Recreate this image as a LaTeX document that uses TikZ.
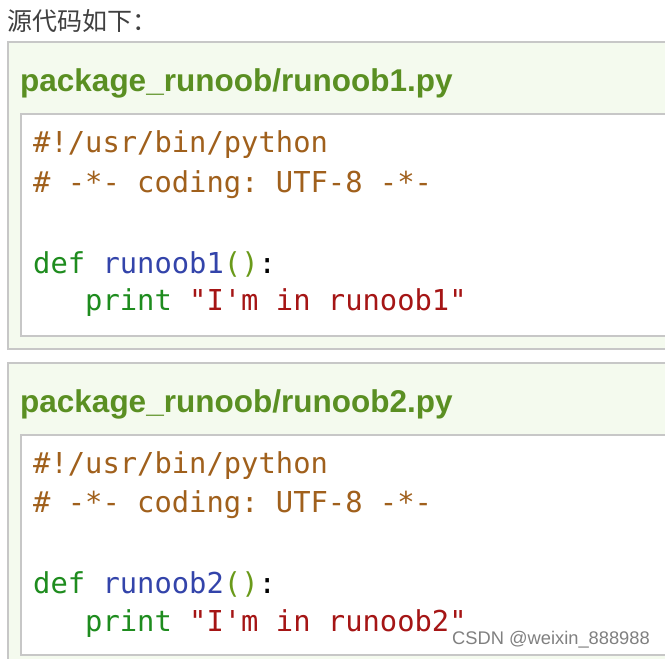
\documentclass[tikz,border=0pt]{standalone}
\usepackage{fontspec}
\setmainfont{Liberation Sans}
\setmonofont{DejaVu Sans Mono}
\newfontfamily\cjk{Noto Sans CJK SC}
\definecolor{cmt}{HTML}{A0601C}
\definecolor{kw}{HTML}{1E8C1E}
\definecolor{fn}{HTML}{3344AA}
\definecolor{par}{HTML}{6A9A1A}
\definecolor{str}{HTML}{A51515}
\definecolor{ttl}{HTML}{5A8F22}
\definecolor{outerbg}{HTML}{F4FAEE}
\begin{document}
\begin{tikzpicture}[x=1pt,y=-1pt,
  code/.style={anchor=west,inner sep=0,font=\fontsize{28.8}{30}\ttfamily},
  title/.style={anchor=west,inner sep=0,font=\fontsize{31.5}{34}\bfseries,text=ttl},
  outer/.style={fill=outerbg,draw=black!22,line width=1.5pt},
  inner/.style={fill=white,draw=black!22,line width=1.5pt}]
\useasboundingbox (0,0) rectangle (665,659);
\fill[white] (0,0) rectangle (665,659);
\node[anchor=west,inner sep=0,font=\cjk\fontsize{25}{27}\selectfont,text=black!75] (hdr) at (7,21) {源代码如下：};
% box 1
\filldraw[outer] (8,42) rectangle (672,349);
\node[title] (t1) at (20,83) {package\_runoob/runoob1.py};
\filldraw[inner] (21,114) rectangle (672,336);
\node[code,text=cmt] (a1) at (33,145) {\#!/usr/bin/python};
\node[code,text=cmt] (a2) at (33,185) {\# -*- coding: UTF-8 -*-};
\node[code] (a4) at (33,264) {\textcolor{kw}{def} \textcolor{fn}{runoob1}\textcolor{par}{()}:};
\node[code] (a5) at (85,303) {\textcolor{kw}{print} \textcolor{str}{"I'm in runoob1"}};
% box 2
\filldraw[outer] (8,363) rectangle (672,675);
\node[title] (t2) at (20,404) {package\_runoob/runoob2.py};
\filldraw[inner] (21,435) rectangle (672,655);
\node[code,text=cmt] (b1) at (33,466) {\#!/usr/bin/python};
\node[code,text=cmt] (b2) at (33,505) {\# -*- coding: UTF-8 -*-};
\node[code] (b4) at (33,584) {\textcolor{kw}{def} \textcolor{fn}{runoob2}\textcolor{par}{()}:};
\node[code] (b5) at (85,624) {\textcolor{kw}{print} \textcolor{str}{"I'm in runoob2"}};
\node[anchor=west,inner sep=0,font=\fontsize{18.3}{20}\selectfont,text=black!50] (wm) at (452,640) {CSDN @weixin\_888988};
\end{tikzpicture}
\end{document}
